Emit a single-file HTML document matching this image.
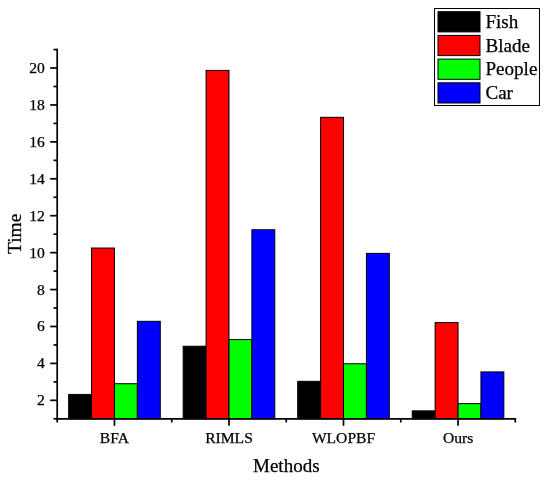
<!DOCTYPE html><html><head><meta charset="utf-8"><title>Time by Methods</title><style>html,body{margin:0;padding:0;background:#fff}svg{display:block}text{font-family:"Liberation Serif","Times New Roman",serif;fill:#000;stroke:#000;stroke-width:0.25px}</style></head><body>
<svg width="550" height="481" viewBox="0 0 550 481">
<rect width="550" height="481" fill="#fff"/>
<rect x="68.65" y="394.43" width="22.91" height="24.37" fill="#000000" stroke="#000" stroke-width="1"/>
<rect x="91.56" y="248.03" width="22.91" height="170.77" fill="#ff0000" stroke="#000" stroke-width="1"/>
<rect x="114.46" y="383.72" width="22.91" height="35.08" fill="#00ff00" stroke="#000" stroke-width="1"/>
<rect x="137.37" y="321.32" width="22.91" height="97.48" fill="#0000ff" stroke="#000" stroke-width="1"/>
<rect x="183.18" y="346.24" width="22.91" height="72.56" fill="#000000" stroke="#000" stroke-width="1"/>
<rect x="206.08" y="70.42" width="22.91" height="348.38" fill="#ff0000" stroke="#000" stroke-width="1"/>
<rect x="228.99" y="339.60" width="22.91" height="79.20" fill="#00ff00" stroke="#000" stroke-width="1"/>
<rect x="251.89" y="229.75" width="22.91" height="189.05" fill="#0000ff" stroke="#000" stroke-width="1"/>
<rect x="297.70" y="381.32" width="22.91" height="37.48" fill="#000000" stroke="#000" stroke-width="1"/>
<rect x="320.61" y="117.32" width="22.91" height="301.48" fill="#ff0000" stroke="#000" stroke-width="1"/>
<rect x="343.51" y="363.78" width="22.91" height="55.02" fill="#00ff00" stroke="#000" stroke-width="1"/>
<rect x="366.42" y="253.38" width="22.91" height="165.42" fill="#0000ff" stroke="#000" stroke-width="1"/>
<rect x="412.23" y="410.86" width="22.91" height="7.94" fill="#000000" stroke="#000" stroke-width="1"/>
<rect x="435.13" y="322.61" width="22.91" height="96.19" fill="#ff0000" stroke="#000" stroke-width="1"/>
<rect x="458.04" y="403.66" width="22.91" height="15.14" fill="#00ff00" stroke="#000" stroke-width="1"/>
<rect x="480.94" y="371.91" width="22.91" height="46.89" fill="#0000ff" stroke="#000" stroke-width="1"/>
<g stroke="#000" stroke-width="1.7" fill="none">
<line x1="57.2" y1="48.71" x2="57.2" y2="419.65"/>
<line x1="56.35" y1="418.8" x2="516.15" y2="418.8"/>
<line x1="53.50" y1="418.80" x2="57.2" y2="418.80"/>
<line x1="50.20" y1="400.34" x2="57.2" y2="400.34"/>
<line x1="53.50" y1="381.88" x2="57.2" y2="381.88"/>
<line x1="50.20" y1="363.41" x2="57.2" y2="363.41"/>
<line x1="53.50" y1="344.95" x2="57.2" y2="344.95"/>
<line x1="50.20" y1="326.49" x2="57.2" y2="326.49"/>
<line x1="53.50" y1="308.03" x2="57.2" y2="308.03"/>
<line x1="50.20" y1="289.57" x2="57.2" y2="289.57"/>
<line x1="53.50" y1="271.10" x2="57.2" y2="271.10"/>
<line x1="50.20" y1="252.64" x2="57.2" y2="252.64"/>
<line x1="53.50" y1="234.18" x2="57.2" y2="234.18"/>
<line x1="50.20" y1="215.72" x2="57.2" y2="215.72"/>
<line x1="53.50" y1="197.26" x2="57.2" y2="197.26"/>
<line x1="50.20" y1="178.79" x2="57.2" y2="178.79"/>
<line x1="53.50" y1="160.33" x2="57.2" y2="160.33"/>
<line x1="50.20" y1="141.87" x2="57.2" y2="141.87"/>
<line x1="53.50" y1="123.41" x2="57.2" y2="123.41"/>
<line x1="50.20" y1="104.95" x2="57.2" y2="104.95"/>
<line x1="53.50" y1="86.48" x2="57.2" y2="86.48"/>
<line x1="50.20" y1="68.02" x2="57.2" y2="68.02"/>
<line x1="53.50" y1="49.56" x2="57.2" y2="49.56"/>
<line x1="57.20" y1="418.8" x2="57.20" y2="422.50"/>
<line x1="171.72" y1="418.8" x2="171.72" y2="422.50"/>
<line x1="286.25" y1="418.8" x2="286.25" y2="422.50"/>
<line x1="400.77" y1="418.8" x2="400.77" y2="422.50"/>
<line x1="515.30" y1="418.8" x2="515.30" y2="422.50"/>
<line x1="114.46" y1="418.8" x2="114.46" y2="425.80"/>
<line x1="228.99" y1="418.8" x2="228.99" y2="425.80"/>
<line x1="343.51" y1="418.8" x2="343.51" y2="425.80"/>
<line x1="458.04" y1="418.8" x2="458.04" y2="425.80"/>
</g>
<text x="44.9" y="405.34" font-size="15.6" text-anchor="end">2</text>
<text x="44.9" y="368.41" font-size="15.6" text-anchor="end">4</text>
<text x="44.9" y="331.49" font-size="15.6" text-anchor="end">6</text>
<text x="44.9" y="294.57" font-size="15.6" text-anchor="end">8</text>
<text x="44.9" y="257.64" font-size="15.6" text-anchor="end">10</text>
<text x="44.9" y="220.72" font-size="15.6" text-anchor="end">12</text>
<text x="44.9" y="183.79" font-size="15.6" text-anchor="end">14</text>
<text x="44.9" y="146.87" font-size="15.6" text-anchor="end">16</text>
<text x="44.9" y="109.95" font-size="15.6" text-anchor="end">18</text>
<text x="44.9" y="73.02" font-size="15.6" text-anchor="end">20</text>
<text x="114.46" y="443.3" font-size="15.6" text-anchor="middle">BFA</text>
<text x="228.99" y="443.3" font-size="15.6" text-anchor="middle">RIMLS</text>
<text x="343.51" y="443.3" font-size="15.6" text-anchor="middle">WLOPBF</text>
<text x="458.04" y="443.3" font-size="15.6" text-anchor="middle">Ours</text>
<text x="286.3" y="472.1" font-size="19" text-anchor="middle">Methods</text>
<text transform="translate(21.3,233.8) rotate(-90)" font-size="19.4" text-anchor="middle">Time</text>
<rect x="434.5" y="8.5" width="105" height="97" fill="#fff" stroke="#000" stroke-width="1"/>
<rect x="438" y="11.70" width="42" height="20.2" fill="#000000" stroke="#000" stroke-width="1"/>
<text x="485.4" y="27.80" font-size="19.1">Fish</text>
<rect x="438" y="35.40" width="42" height="20.2" fill="#ff0000" stroke="#000" stroke-width="1"/>
<text x="485.4" y="51.50" font-size="19.1">Blade</text>
<rect x="438" y="59.10" width="42" height="20.2" fill="#00ff00" stroke="#000" stroke-width="1"/>
<text x="485.4" y="75.20" font-size="19.1">People</text>
<rect x="438" y="82.80" width="42" height="20.2" fill="#0000ff" stroke="#000" stroke-width="1"/>
<text x="485.4" y="98.90" font-size="19.1">Car</text>
</svg></body></html>
